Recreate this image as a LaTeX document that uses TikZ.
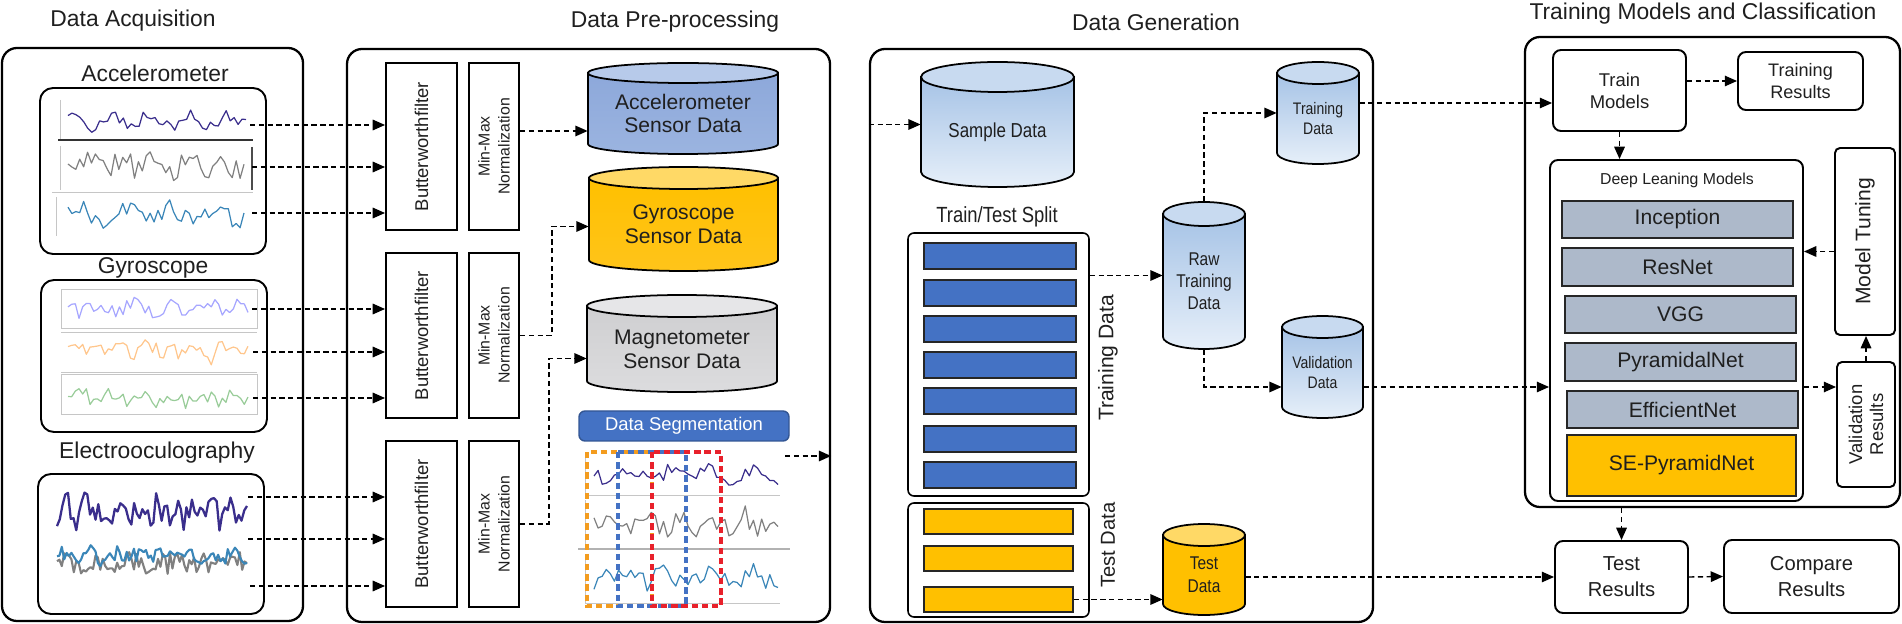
\documentclass[tikz,border=0pt]{standalone}
\usepackage{fontspec}
\setmainfont{Liberation Sans}
\newfontfamily\narrowsf[FakeStretch=0.84]{Liberation Sans}
\usepackage{xcolor}
\usetikzlibrary{arrows.meta,calc,fit,positioning}

\definecolor{accA}{HTML}{8DA8DA}
\definecolor{accB}{HTML}{9BB4E0}
\definecolor{accC}{HTML}{B7CAEA}
\definecolor{gyrA}{HTML}{FFC000}
\definecolor{gyrB}{HTML}{FFC41A}
\definecolor{gyrC}{HTML}{FFD966}
\definecolor{magA}{HTML}{CFCFD1}
\definecolor{magB}{HTML}{DCDCDE}
\definecolor{magC}{HTML}{E6E6E8}
\definecolor{lbA}{HTML}{A6C3E6}
\definecolor{lbB}{HTML}{E6EFF9}
\definecolor{lbC}{HTML}{C8DAF0}
\definecolor{tstA}{HTML}{FFC000}
\definecolor{tstB}{HTML}{FFC000}
\definecolor{tstC}{HTML}{FFD966}
\definecolor{barblue}{HTML}{4472C4}
\definecolor{bargold}{HTML}{FFC000}
\definecolor{netgray}{HTML}{ADB9CA}
\definecolor{segorange}{HTML}{F39C1F}
\definecolor{segred}{HTML}{E8212B}
\definecolor{signavy}{HTML}{3A2E8C}
\definecolor{sigblue}{HTML}{3A86B8}

% cylinder: name, left, top, right, bottom, cap radius, colour set, font, text
\newcommand{\dbcyl}[9]{%
    \path[draw, line width=1pt, top color=#7A, bottom color=#7B] (#2,{#3+#6}) -- (#2,{#5-#6})
        arc[start angle=180, end angle=0, x radius={(#4-#2)/2}, y radius=#6] -- (#4,{#3+#6}) -- cycle;
    \path[draw, line width=1pt, fill=#7C] ({(#2+#4)/2},{#3+#6}) ellipse[x radius={(#4-#2)/2}, y radius=#6];
    \node[fit={(#2,#3)(#4,#5)}, inner sep=0pt] (#1) {};
    \node[align=center, #8] (#1-txt) at ({(#2+#4)/2},{(#3+#6+#5)/2}) {#9};
}

\begin{document}
\begin{tikzpicture}[x=0.02cm, y=-0.02cm, text=black!88,
    ttl/.style={font=\fontsize{13}{15.6}\selectfont},
    mtxt/.style={font=\fontsize{12}{14}\selectfont},
    panel/.style={draw, line width=1.3pt, rounded corners=0.3cm, inner sep=0pt},
    rbox/.style={draw, line width=1.1pt, rounded corners=0.16cm, inner sep=0pt},
    sbox/.style={draw, line width=1.1pt, inner sep=0pt},
    darr/.style={line width=0.8pt, dash pattern=on 3pt off 2pt, -{Triangle[length=7pt,width=6pt]}},
    sig/.style={line width=0.7pt, line join=round},
    axisln/.style={draw=gray!45, line width=0.5pt},
    bluebar/.style={draw=black!85, line width=1pt, fill=barblue, inner sep=0pt},
    goldbar/.style={draw=black!85, line width=1pt, fill=bargold, inner sep=0pt},
    mbar/.style={draw=black!85, line width=1.1pt, fill=netgray, inner sep=0pt},
    segbox/.style={dash pattern=on 3.6pt off 2.2pt, line width=1.8pt},
    ]

    \useasboundingbox (0,0) rectangle (1902,624);
    \pgfmathsetseed{11}

    \node[ttl] (t-acq) at (133,21) {Data Acquisition};
    \node[ttl] (t-prep) at (675,22) {Data Pre-processing};
    \node[ttl] (t-gen) at (1156,22) {Data Generation};
    \node[ttl] (t-tm) at (1703,14) {Training Models and Classification};

    \node[panel, fit={(2,48)(303,621)}] (acq) {};
    \node[panel, fit={(347,49)(830,622)}] (prep) {};
    \node[panel, fit={(870,49)(1373,622)}] (gen) {};
    \node[panel, fit={(1525,37)(1900,507)}] (tm) {};

    % data acquisition
    \node[ttl] (l-acc) at (155,73) {Accelerometer};
    \node[ttl] (l-gyr) at (153,268) {Gyroscope};
    \node[ttl] (l-eog) at (157,453) {Electrooculography};
    \node[rbox, rounded corners=0.26cm, fit={(40,88)(266,254)}] (accbox) {};
    \node[rbox, rounded corners=0.26cm, fit={(41,280)(267,432)}] (gyrbox) {};
    \node[rbox, rounded corners=0.26cm, fit={(38,474)(264,614)}] (eogbox) {};

    \draw[axisln] (60,100) -- (60,140);
    \draw[black!80, line width=0.8pt] (58,140) -- (253,140);
    \draw[axisln] (60,146) -- (60,190);
    \draw[black!70, line width=0.8pt] (252,147) -- (252,190);
    \draw[axisln] (52,192) -- (253,192);
    \draw[axisln] (56,197) -- (56,236);
    \draw[sig, signavy] plot[domain=68:246, samples=46] (\x,{121+6*sin(9*\x)+7*rand});
    \draw[sig, gray] plot[domain=68:244, samples=46] (\x,{165+7*sin(11*\x)+11*rand});
    \draw[sig, sigblue] plot[domain=68:244, samples=46] (\x,{214+6*sin(8*\x)+9*rand});

    \draw[axisln] (61,289) rectangle (257,328);
    \draw[axisln] (61,332) -- (257,332);
    \draw[axisln] (61,372) -- (257,372);
    \draw[axisln] (61,374) rectangle (257,414);
    \draw[sig, blue!35] plot[domain=68:248, samples=50] (\x,{308+5*sin(10*\x)+8*rand});
    \draw[sig, orange!45] plot[domain=68:248, samples=50] (\x,{350+5*sin(9*\x)+10*rand});
    \draw[sig, green!50!black!40] plot[domain=68:248, samples=50] (\x,{398+4*sin(12*\x)+7*rand});

    \draw[sig, line width=1.2pt, gray] plot[domain=57:247, samples=80] (\x,{563+11*rand});
    \draw[sig, line width=1.2pt, sigblue] plot[domain=57:247, samples=80] (\x,{556+8*rand+3*sin(15*\x)});
    \draw[sig, line width=1.3pt, signavy] plot[domain=57:247, samples=70] (\x,{512+6*sin(20*\x)+14*rand});

    \foreach \n/\xx/\yy in {1/250/125, 2/252/167, 3/252/213, 4/252/309, 5/253/352, 6/253/398,
            7/248/497, 8/248/539, 9/250/586}{
        \coordinate (s\n) at (\xx,\yy);
    }

    % pre-processing
    \foreach \i/\t/\b in {1/63/230, 2/253/418, 3/441/607}{
        \node[sbox, fit={(386,\t)(457,\b)}, label={[rotate=90, font=\fontsize{10.5}{12.5}\selectfont]center:Butterworthfilter}] (bw\i) {};
        \node[sbox, fit={(469,\t)(519,\b)}, label={[rotate=90, align=center, font=\fontsize{9}{11.3}\selectfont]center:Min-Max\\Normalization}] (mm\i) {};
    }
    \foreach \n/\b in {1/bw1, 2/bw1, 3/bw1, 4/bw2, 5/bw2, 6/bw2, 7/bw3, 8/bw3, 9/bw3}{
        \draw[darr] (s\n) -- (s\n -| \b.west);
    }

    \dbcyl{acc}{588}{63}{778}{154}{10}{acc}{font=\fontsize{12}{13.6}\selectfont}{Accelerometer\\Sensor Data}
    \dbcyl{gyr}{589}{167}{778}{271}{11}{gyr}{font=\fontsize{12}{13.6}\selectfont}{Gyroscope\\Sensor Data}
    \dbcyl{mag}{587}{295}{777}{392}{11}{mag}{font=\fontsize{12}{13.6}\selectfont}{Magnetometer\\Sensor Data}

    \coordinate (accin) at ([yshift=-0.45cm]acc.west);
    \coordinate (gyrin) at ([yshift=-0.15cm]gyr.west);
    \coordinate (magin) at ([yshift=-0.3cm]mag.west);
    \draw[darr] (accin -| mm1.east) -- (accin);
    \draw[darr] (mm2.east) -- ++(32,0) |- (gyrin);
    \draw[darr] (mm3.east) -- ++(29,0) |- (magin);

    \node[draw=barblue!75!black, fill=barblue, line width=0.8pt, rounded corners=0.12cm, inner sep=0pt,
        fit={(579,411)(789,441)},
        label={[text=white, font=\fontsize{10.5}{12}\selectfont]center:Data Segmentation}] (segl) {};
    \draw[axisln] (585,452) -- (585,495) -- (780,495);
    \draw[axisln] (585,500) -- (585,549);
    \draw[gray!60, line width=1.2pt] (578,549) -- (790,549);
    \draw[axisln] (585,555) -- (585,603) -- (780,603);
    \draw[sig, signavy] plot[domain=594:778, samples=46] (\x,{475+5*sin(9*\x)+8*rand});
    \draw[sig, gray] plot[domain=594:778, samples=46] (\x,{522+6*sin(11*\x)+12*rand});
    \draw[sig, sigblue] plot[domain=594:778, samples=46] (\x,{578+5*sin(8*\x)+10*rand});
    \draw[segbox, segorange] (587,452) rectangle (652,606);
    \draw[segbox, barblue] (618,452) rectangle (686,606);
    \draw[segbox, segred] (652,452) rectangle (721,606);
    \coordinate (segout) at (785,456);
    \draw[darr] (segout) -- (segout -| prep.east);

    % data generation
    \dbcyl{sample}{921}{62}{1074}{187}{15}{lb}{font=\narrowsf\fontsize{11.5}{13}\selectfont}{Sample Data}
    \draw[darr] (gen.west |- sample) -- (sample.west);

    \node[font=\narrowsf\fontsize{12.5}{14}\selectfont] (l-split) at (997,217) {Train/Test Split};
    \node[rbox, rounded corners=0.12cm, line width=0.9pt, fit={(908,233)(1089,496)}] (trsplit) {};
    \node[rbox, rounded corners=0.12cm, line width=0.9pt, fit={(908,503)(1089,617)}] (tesplit) {};
    \foreach \t [count=\i] in {243,280,316,352,388,426,462}{
        \node[bluebar, fit={(924,\t)(1076,{\t+26})}] (tr\i) {};
    }
    \foreach \t [count=\i] in {509,546,587}{
        \node[goldbar, fit={(924,\t)(1073,{\t+25})}] (tb\i) {};
    }
    \node[rotate=90, font=\fontsize{12}{14}\selectfont] (l-trd) at (1108,358) {Training Data};
    \node[rotate=90, font=\fontsize{11.5}{14}\selectfont] (l-ted) at (1108,545) {Test Data};

    \dbcyl{raw}{1163}{202}{1245}{349}{12}{lb}{font=\narrowsf\fontsize{10.5}{12.5}\selectfont}{Raw\\Training\\Data}
    \dbcyl{trdata}{1277}{62}{1359}{164}{11}{lb}{font=\narrowsf\fontsize{9.5}{11.3}\selectfont}{Training\\Data}
    \dbcyl{valdata}{1282}{316}{1363}{418}{11}{lb}{font=\narrowsf\fontsize{9.5}{11.3}\selectfont}{Validation\\Data}
    \dbcyl{testdata}{1163}{524}{1245}{615}{11}{tst}{font=\narrowsf\fontsize{10.5}{13}\selectfont}{Test\\Data}

    \draw[darr] (trsplit.east |- raw) -- (raw.west);
    \draw[darr] (raw.north) |- (trdata.west);
    \coordinate (valin) at ([yshift=-0.4cm]valdata.west);
    \draw[darr] (raw.south) |- (valin);
    \draw[darr] (tb3.east) -- (tb3.east -| testdata.west);

    % training models and classification
    \node[rbox, fit={(1553,50)(1686,131)},
        label={[align=center, font=\fontsize{10.5}{12.5}\selectfont]center:Train\\Models}] (trainm) {};
    \node[rbox, fit={(1738,52)(1863,110)},
        label={[align=center, font=\fontsize{10.3}{12.5}\selectfont]center:Training\\Results}] (trres) {};
    \node[rbox, fit={(1550,160)(1803,501)}] (dl) {};
    \node[font=\fontsize{9}{11}\selectfont] (dl-lbl) at (1677,180) {Deep Leaning Models};
    \node[mbar, fit={(1562,201)(1793,238)}, label={[mtxt]center:Inception}] (inc) {};
    \node[mbar, fit={(1562,248)(1793,286)}, label={[mtxt]center:ResNet}] (res) {};
    \node[mbar, fit={(1565,296)(1796,333)}, label={[mtxt]center:VGG}] (vgg) {};
    \node[mbar, fit={(1565,343)(1796,381)}, label={[mtxt]center:PyramidalNet}] (pyr) {};
    \node[mbar, fit={(1567,391)(1798,428)}, label={[mtxt]center:EfficientNet}] (eff) {};
    \node[mbar, fill=bargold, fit={(1567,435)(1796,496)}, label={[mtxt]center:SE-PyramidNet}] (sep) {};
    \node[rbox, rounded corners=0.1cm, fit={(1835,148)(1895,335)},
        label={[rotate=90, font=\fontsize{12}{14}\selectfont]center:Model Tuning}] (tuning) {};
    \node[rbox, rounded corners=0.1cm, fit={(1837,362)(1895,487)},
        label={[rotate=90, align=center, font=\fontsize{10.5}{12}\selectfont]center:Validation\\Results}] (valres) {};
    \node[rbox, fit={(1555,541)(1688,613)},
        label={[align=center, font=\fontsize{11.5}{14.7}\selectfont]center:Test\\Results}] (testres) {};
    \node[rbox, fit={(1724,540)(1899,613)},
        label={[align=center, font=\fontsize{11.5}{14.7}\selectfont]center:Compare\\Results}] (compare) {};

    \coordinate (trout) at ([yshift=0.2cm]trdata.east);
    \coordinate (valout) at ([yshift=-0.4cm]valdata.east);
    \coordinate (tunout) at ([yshift=-0.2cm]tuning.west);
    \coordinate (vrin) at ([yshift=0.75cm]valres.west);
    \draw[darr] (trout) -- (trout -| trainm.west);
    \draw[darr] (valout) -- (valout -| dl.west);
    \draw[darr] (testdata.east |- testres.west) -- (testres.west);
    \draw[darr] (trainm.east |- trres.west) -- (trres.west);
    \draw[darr] (trainm.south) -- (trainm.south |- dl.north);
    \draw[darr] (tunout) -- (tunout -| dl.east);
    \draw[darr] (vrin -| dl.east) -- (vrin);
    \draw[darr] (valres.north) -- (valres.north |- tuning.south);
    \draw[darr] (testres.north |- tm.south) -- (testres.north);
    \draw[darr] (testres.east) -- (compare.west);
\end{tikzpicture}
\end{document}
